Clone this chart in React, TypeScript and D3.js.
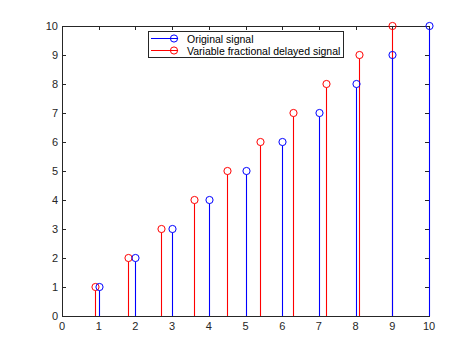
import React from "react";
import * as d3 from "d3";

const origX = [1, 2, 3, 4, 5, 6, 7, 8, 9, 10];
const origY = [1, 2, 3, 4, 5, 6, 7, 8, 9, 10];
const delayX = [0.9, 1.8, 2.7, 3.6, 4.5, 5.4, 6.3, 7.2, 8.1, 9.0];
const delayY = [1, 2, 3, 4, 5, 6, 7, 8, 9, 10];
const xTicks = [0, 1, 2, 3, 4, 5, 6, 7, 8, 9, 10];
const yTicks = [0, 1, 2, 3, 4, 5, 6, 7, 8, 9, 10];
const legendLabels = ["Original signal", "Variable fractional delayed signal"];

const W = 474, H = 355;
const L = 62, R = 429, T = 26, B = 316;
const BLUE = "#0000ff";
const RED = "#ff0000";
const AX = "#262626";

export default function App() {
  const x = d3.scaleLinear().domain([0, 10]).range([L, R]);
  const y = d3.scaleLinear().domain([0, 10]).range([B, T]);
  const r = 3.6;
  const font = "Liberation Sans, Arial, sans-serif";
  const px = (v: number) => Math.round(v) + 0.5;
  const stems = (xs: number[], ys: number[], c: string, k: string) =>
    xs.map((xv, i) => (
      <g key={k + i}>
        <line x1={px(x(xv))} x2={px(x(xv))} y1={y(0)} y2={y(ys[i]) + r} stroke={c} strokeWidth={1.1} />
        <circle cx={px(x(xv))} cy={y(ys[i])} r={r} fill="none" stroke={c} strokeWidth={1} />
      </g>
    ));
  return (
    <svg width={W} height={H} style={{ position: "absolute", left: 0, top: 0, background: "#fff" }}>
      <rect x={0} y={0} width={W} height={H} fill="#fff" />
      <rect x={L} y={T} width={R - L} height={B - T} fill="none" stroke={AX} strokeWidth={1} shapeRendering="crispEdges" />
      {xTicks.map((t) => (
        <g key={"xt" + t}>
          <line x1={px(x(t))} x2={px(x(t))} y1={B} y2={B - 4} stroke={AX} shapeRendering="crispEdges" />
          <line x1={px(x(t))} x2={px(x(t))} y1={T} y2={T + 4} stroke={AX} shapeRendering="crispEdges" />
          <text x={x(t)} y={B + 14} textAnchor="middle" fontFamily={font} fontSize={11} fill={AX}>{t}</text>
        </g>
      ))}
      {yTicks.map((t) => (
        <g key={"yt" + t}>
          <line x1={L} x2={L + 4} y1={y(t)} y2={y(t)} stroke={AX} shapeRendering="crispEdges" />
          <line x1={R} x2={R - 4} y1={y(t)} y2={y(t)} stroke={AX} shapeRendering="crispEdges" />
          <text x={L - 4} y={y(t) + 4} textAnchor="end" fontFamily={font} fontSize={11} fill={AX}>{t}</text>
        </g>
      ))}
      {stems(delayX, delayY, RED, "d")}
      {stems(origX, origY, BLUE, "o")}
      <g>
        <rect x={148} y={31} width={195} height={26} fill="#fff" stroke={AX} strokeWidth={1} shapeRendering="crispEdges" />
        {legendLabels.map((lab, i) => {
          const c = i === 0 ? BLUE : RED;
          const ly = 38.5 + i * 12;
          return (
            <g key={lab}>
              <line x1={151} x2={178} y1={ly} y2={ly} stroke={c} strokeWidth={1} />
              <circle cx={174} cy={ly} r={r} fill="none" stroke={c} strokeWidth={1} />
              <text x={187} y={ly + 4} fontFamily={font} fontSize={10.5} fill="#000">{lab}</text>
            </g>
          );
        })}
      </g>
    </svg>
  );
}
